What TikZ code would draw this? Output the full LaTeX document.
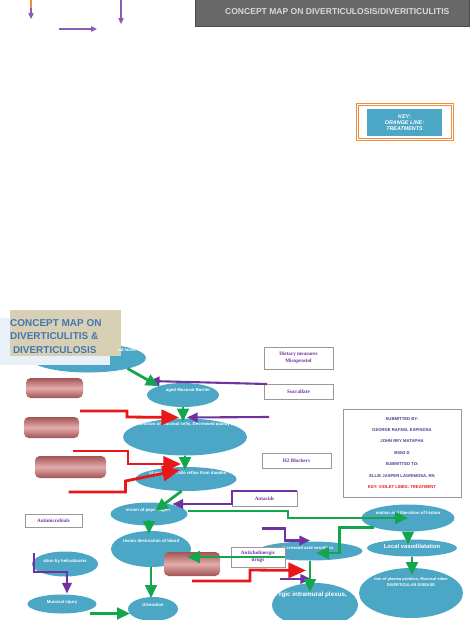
\documentclass[tikz,border=0pt]{standalone}
\usepackage{fontspec}
\setmainfont{Liberation Serif}
\setsansfont{Liberation Sans}
\usetikzlibrary{arrows.meta, shapes.geometric, calc}
\definecolor{mapblue}{RGB}{76,166,198}
\definecolor{mapgreen}{RGB}{20,166,76}
\definecolor{mapred}{RGB}{232,24,24}
\definecolor{mapviolet}{RGB}{112,50,160}
\definecolor{mappink}{RGB}{204,104,104}
\definecolor{mapgray}{RGB}{104,104,104}
\definecolor{mapbeige}{RGB}{216,208,180}
\definecolor{maptitle}{RGB}{66,118,178}
\definecolor{maporange}{RGB}{238,140,64}
\definecolor{mapwash}{RGB}{232,240,248}
\definecolor{mapink}{RGB}{80,58,140}
\newcommand{\mapfont}{\fontsize{3.7}{4.3}\selectfont}
\newcommand{\boxfont}{\fontsize{4.4}{6.2}\selectfont}

\begin{document}
\begin{tikzpicture}[
  x=0.03cm, y=-0.03cm,
  sz/.style 2 args={minimum width=#1*0.03cm, minimum height=#2*0.03cm},
  blob/.style={ellipse, fill=mapblue, inner sep=0pt, outer sep=0pt},
  blobtext/.style={text=white, font=\sffamily\bfseries\mapfont, inner sep=0pt},
  treat/.style={draw=black!40, fill=white, line width=0.5pt, align=center,
                text=mapviolet, font=\bfseries\boxfont, inner sep=0pt, outer sep=0pt},
  tube/.style={rounded corners=4pt, top color=mappink!80!black,
               bottom color=mappink!80!black, middle color=mappink!55!white,
               inner sep=0pt, outer sep=0pt},
  garr/.style={-{Triangle[length=11pt,width=10pt]}, mapgreen, line width=2.4pt},
  rarr/.style={-{Triangle[length=15pt,width=13pt]}, mapred, line width=2.4pt},
  varr/.style={-{Triangle[length=9pt,width=8pt]}, mapviolet, line width=1.8pt},
  sarr/.style={-{Triangle[length=5pt,width=4.5pt]}, mapviolet!80, line width=0.9pt}
]
\useasboundingbox (0,0) rectangle (474,620);

% top strip
\node[fill=mapgray, draw=black!70, line width=0.8pt, sz={274}{29}, inner sep=0pt,
      text=black!15, font=\sffamily\bfseries\fontsize{7.3}{8}\selectfont] (banner)
      at (332,11.5) {\hspace{9pt}CONCEPT MAP ON DIVERTICULOSIS/DIVERITICULITIS};
\coordinate (oA) at (31,-3);
\coordinate (oB) at (31,8);
\draw[maporange, line width=2pt] (oA) -- (oB);
\draw[sarr] (oB) -- ++(0,11);
\coordinate (vA) at (121,-3);
\draw[sarr] (vA) -- ++(0,27);
\coordinate (vB) at (59,29);
\draw[sarr] (vB) -- ++(38,0);

% key
\node[draw=maporange, line width=0.7pt, sz={97}{37}, inner sep=0pt] (keyframe) at (404.5,121.5) {};
\node[draw=maporange, line width=0.5pt, sz={93}{33}, inner sep=0pt] (keyinner) at (404.5,121.5) {};
\node[fill=mapblue, sz={75}{27}, inner sep=0pt, align=center, text=white,
      font=\sffamily\bfseries\itshape\fontsize{4.6}{5.2}\selectfont] (key)
      at (404.5,122.5) {KEY:\\ORANGE LINE:\\TREATMENTS};

% ellipses
\node[blob, sz={116}{29}] (lactic) at (88,358) {};
\node[blob, sz={72}{24}] (barrier) at (183,395) {};
\node[blob, sz={124}{37}] (mucfun) at (185,437) {};
\node[blob, sz={101}{24}] (reflux) at (186,479) {};
\node[blob, sz={77}{23}] (pepsin) at (149,514) {};
\node[blob, sz={80}{36}] (erosion) at (151,549) {};
\node[blob, sz={66}{25}] (helico) at (65,564) {};
\node[blob, sz={69}{19}] (injury) at (62,604) {};
\node[blob, sz={50}{24}] (ulcer) at (153,609) {};
\node[blob, sz={105}{19}] (acid) at (310,551) {};
\node[blob, sz={93}{27}] (hist) at (408,518) {};
\node[blob, sz={90}{17}] (vaso) at (412,548) {};
\node[blob, sz={104}{50}] (plasma) at (411,593) {};
\node[blob, sz={86}{44}] (plexus) at (315,605) {};

% pipes
\node[tube, sz={57}{20}] (cylA) at (54.5,388) {};
\node[tube, sz={55}{21}] (cylB) at (51.5,427.5) {};
\node[tube, sz={71}{22}] (cylC) at (70.5,467) {};
\node[tube, sz={56}{24}] (cylD) at (192,564) {};

% title block
\fill[mapwash] (0,318) rectangle (110,365);
\node[fill=mapbeige, sz={111}{46}, inner sep=0pt] (titlebox) at (65.5,333) {};
\node[anchor=north west, align=left, inner sep=0pt, text=maptitle,
      font=\sffamily\bfseries\fontsize{8.5}{11.5}\selectfont] (title)
      at (10,319) {CONCEPT MAP ON\\DIVERTICULITIS \&\\\ DIVERTICULOSIS};

% ellipse texts
\node[blobtext] (lactic-t) at (127,350) {nd lactic};
\node[blobtext] (barrier-t) at (188,390) {aged Mucosal Barrier};
\node[blobtext] (mucfun-t) at (186,424) {function of mucosal cells, Decreased quality o};
\node[blobtext] (reflux-t) at (188,473) {al pancreatic, bile reflux from duoden};
\node[blobtext] (pepsin-t) at (148,510) {ersion of pepsinogen};
\node[blobtext] (erosion-t) at (151,541) {rosion destruction of blood};
\node[blobtext] (helico-t) at (65,561) {ation by helicobacter};
\node[blobtext] (injury-t) at (62,602) {Mucosal injury};
\node[blobtext] (ulcer-t) at (153,605) {Ulceration};
\node[blobtext] (acid-t) at (308,548) {Increased acid secretion};
\node[blobtext] (hist-t) at (408,513) {mation and liberation of histam};
\node[blobtext, font=\sffamily\bfseries\fontsize{5}{5.5}\selectfont] (vaso-t) at (412,546) {Local vasodilatation};
\node[blobtext, align=center, font=\sffamily\bfseries\fontsize{3.4}{4.6}\selectfont] (plasma-t)
      at (411,582) {tion of plasma proteins, Mucosal edem\\DIVERTICULAR DISEASE};
\node[blobtext, font=\sffamily\bfseries\fontsize{5.4}{6}\selectfont] (plexus-t) at (313,595) {rgic intramural plexus,};

% treatment boxes
\node[treat, sz={69}{22}] (dietary) at (298.5,358) {Dietary measures\\Misoprostol};
\node[treat, sz={69}{15}] (sucral) at (298.5,391.5) {Sucralfate};
\node[treat, sz={69}{15}] (htwo) at (296.5,460.5) {H2 Blockers};
\node[treat, sz={65}{15}] (antacid) at (264.5,498.5) {Antacids};
\node[treat, sz={57}{13}] (antimic) at (53.5,520.5) {Antimicrobials};
\node[treat, sz={54}{20}] (anticho) at (258,557) {Anticholinergic\\drugs};
\node[treat, sz={118}{88}, text=mapink, font=\sffamily\bfseries\fontsize{3.6}{9.8}\selectfont] (submit)
      at (402,453) {SUBMITTED BY:\\GEORGE RAFAEL ESPINOSA\\JOHN REY MATAPHA\\BSN3 D\\SUBMITTED TO:\\ELLIE JASPER LAGRIMOSA, RN\\\textcolor{mapred}{KEY: VIOLET LINES: TREATMENT}\hspace{8pt}};

% red arrows
\draw[rarr] ($(cylA.south east)+(-3,13)$) -| ++(47,6) -- ($(mucfun.north)+(-6,-1)$);
\draw[rarr] ($(cylB.south east)+(-6,13)$) -| ++(55,13) -- ($(reflux.north)+(-5,-3)$);
\draw[rarr] ($(cylC.south)+(-2,14)$) -| ++(57,-11) -- ($(reflux.north)+(-6,3)$);
\draw[rarr] ($(cylD.south)+(0,5)$) -| ++(58,-11) -- ($(acid.south)+(-4,10)$);

% violet arrows
\draw[varr] ($(sucral.north west)+(3,0)$) -- ($(barrier.west)+(2,-14)$);
\draw[varr] ($(htwo.north west)+(7,-36)$) -- ($(mucfun.north)+(2,-1)$);
\draw[varr] (antacid.north east) -- (antacid.north west) |- ($(pepsin.east)+(-15,-10)$);
\draw[varr] ($(helico.west)+(2,-11)$) -- ++(0,19) -| ($(injury.north)+(5,-1)$);
\draw[varr] ($(acid.north)+(-48,-13)$) -- ++(23,0) |- ($(acid.north)+(0,-1)$);
\draw[varr] ($(plexus.north)+(-35,-4)$) -- ($(plexus.north)+(-4,-4)$);

% green arrows
\draw[garr] (lactic.-15) -- (barrier.160);
\draw[garr] (barrier.south) -- ($(barrier.south |- mucfun.north)+(0,3)$);
\draw[garr] (mucfun.south) -- ($(mucfun.south |- reflux.north)+(0,3)$);
\draw[garr] (reflux.-110) -- ($(pepsin.center)+(6,-3)$);
\draw[garr] ($(pepsin.south)+(0,-6)$) -- ($(pepsin.south |- erosion.north)+(0,3)$);
\draw[garr] (erosion.south) -- ($(erosion.south |- ulcer.north)+(0,1)$);
\draw[garr] ($(injury.south)+(28,0)$) -- ($(ulcer.west |- injury.south)+(2,0)$);
\draw[garr] ($(pepsin.east)+(0,-3)$) -| ($(hist.center)+(-120,0)$) -- (hist.center);
\draw[garr] (hist.south) -- ($(hist.south |- vaso.north)+(0,5)$);
\draw[garr] (vaso.south) -- ($(vaso.south |- plasma.north)+(0,7)$);
\draw[garr] (hist.-165) -- ++(-34,0) |- ($(acid.center)+(6,2)$);
\draw[garr] (acid.south) -- ($(acid.south |- plexus.north)+(0,9)$);
\draw[garr] (anticho.east) -- ($(cylD.center)+(-5,-7)$);
\end{tikzpicture}
\end{document}
